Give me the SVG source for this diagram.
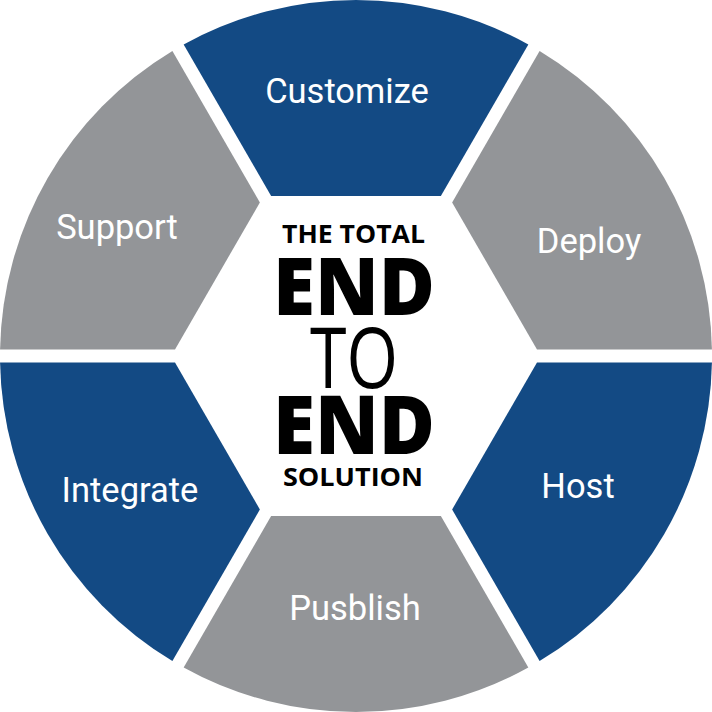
<svg xmlns="http://www.w3.org/2000/svg" width="712" height="712" viewBox="0 0 712 712">
  <defs>
    <style>
      .blue { fill: #134a84; }
      .gray { fill: #939598; }
      .lbl { font-family: Roboto, "Liberation Sans", sans-serif; font-size: 34.5px; fill: #ffffff; text-anchor: middle; }
      .ctr { font-family: "Open Sans", "Liberation Sans", sans-serif; fill: #000000; text-anchor: middle; }
    </style>
    <path id="seg" d="M 271.13 196 L 183.66 44.5 A 356 356 0 0 1 528.34 44.5 L 440.87 196 Z"/>
  </defs>
  <rect width="712" height="712" fill="#ffffff"/>
  <g id="customize">
    <use href="#seg" class="blue"/>
    <text class="lbl" x="347" y="103">Customize</text>
  </g>
  <g id="deploy">
    <use href="#seg" class="gray" transform="rotate(60 356 356)"/>
    <text class="lbl" x="589" y="253">Deploy</text>
  </g>
  <g id="host">
    <use href="#seg" class="blue" transform="rotate(120 356 356)"/>
    <text class="lbl" x="578" y="498">Host</text>
  </g>
  <g id="pusblish">
    <use href="#seg" class="gray" transform="rotate(180 356 356)"/>
    <text class="lbl" x="355" y="620">Pusblish</text>
  </g>
  <g id="integrate">
    <use href="#seg" class="blue" transform="rotate(240 356 356)"/>
    <text class="lbl" x="130" y="502">Integrate</text>
  </g>
  <g id="support">
    <use href="#seg" class="gray" transform="rotate(300 356 356)"/>
    <text class="lbl" x="117" y="239">Support</text>
  </g>
  <g id="center">
    <text class="ctr" x="353.5" y="243" font-size="25" font-weight="bold" textLength="143" lengthAdjust="spacingAndGlyphs">THE TOTAL</text>
    <text class="ctr" x="354" y="315" font-size="80" font-weight="800" textLength="162" lengthAdjust="spacingAndGlyphs">END</text>
    <text class="ctr" x="354" y="388" font-size="85" font-weight="normal" textLength="88" lengthAdjust="spacingAndGlyphs">TO</text>
    <text class="ctr" x="354" y="454" font-size="82" font-weight="800" textLength="162" lengthAdjust="spacingAndGlyphs">END</text>
    <text class="ctr" x="353" y="486" font-size="25" font-weight="bold" textLength="140" lengthAdjust="spacingAndGlyphs">SOLUTION</text>
  </g>
</svg>
